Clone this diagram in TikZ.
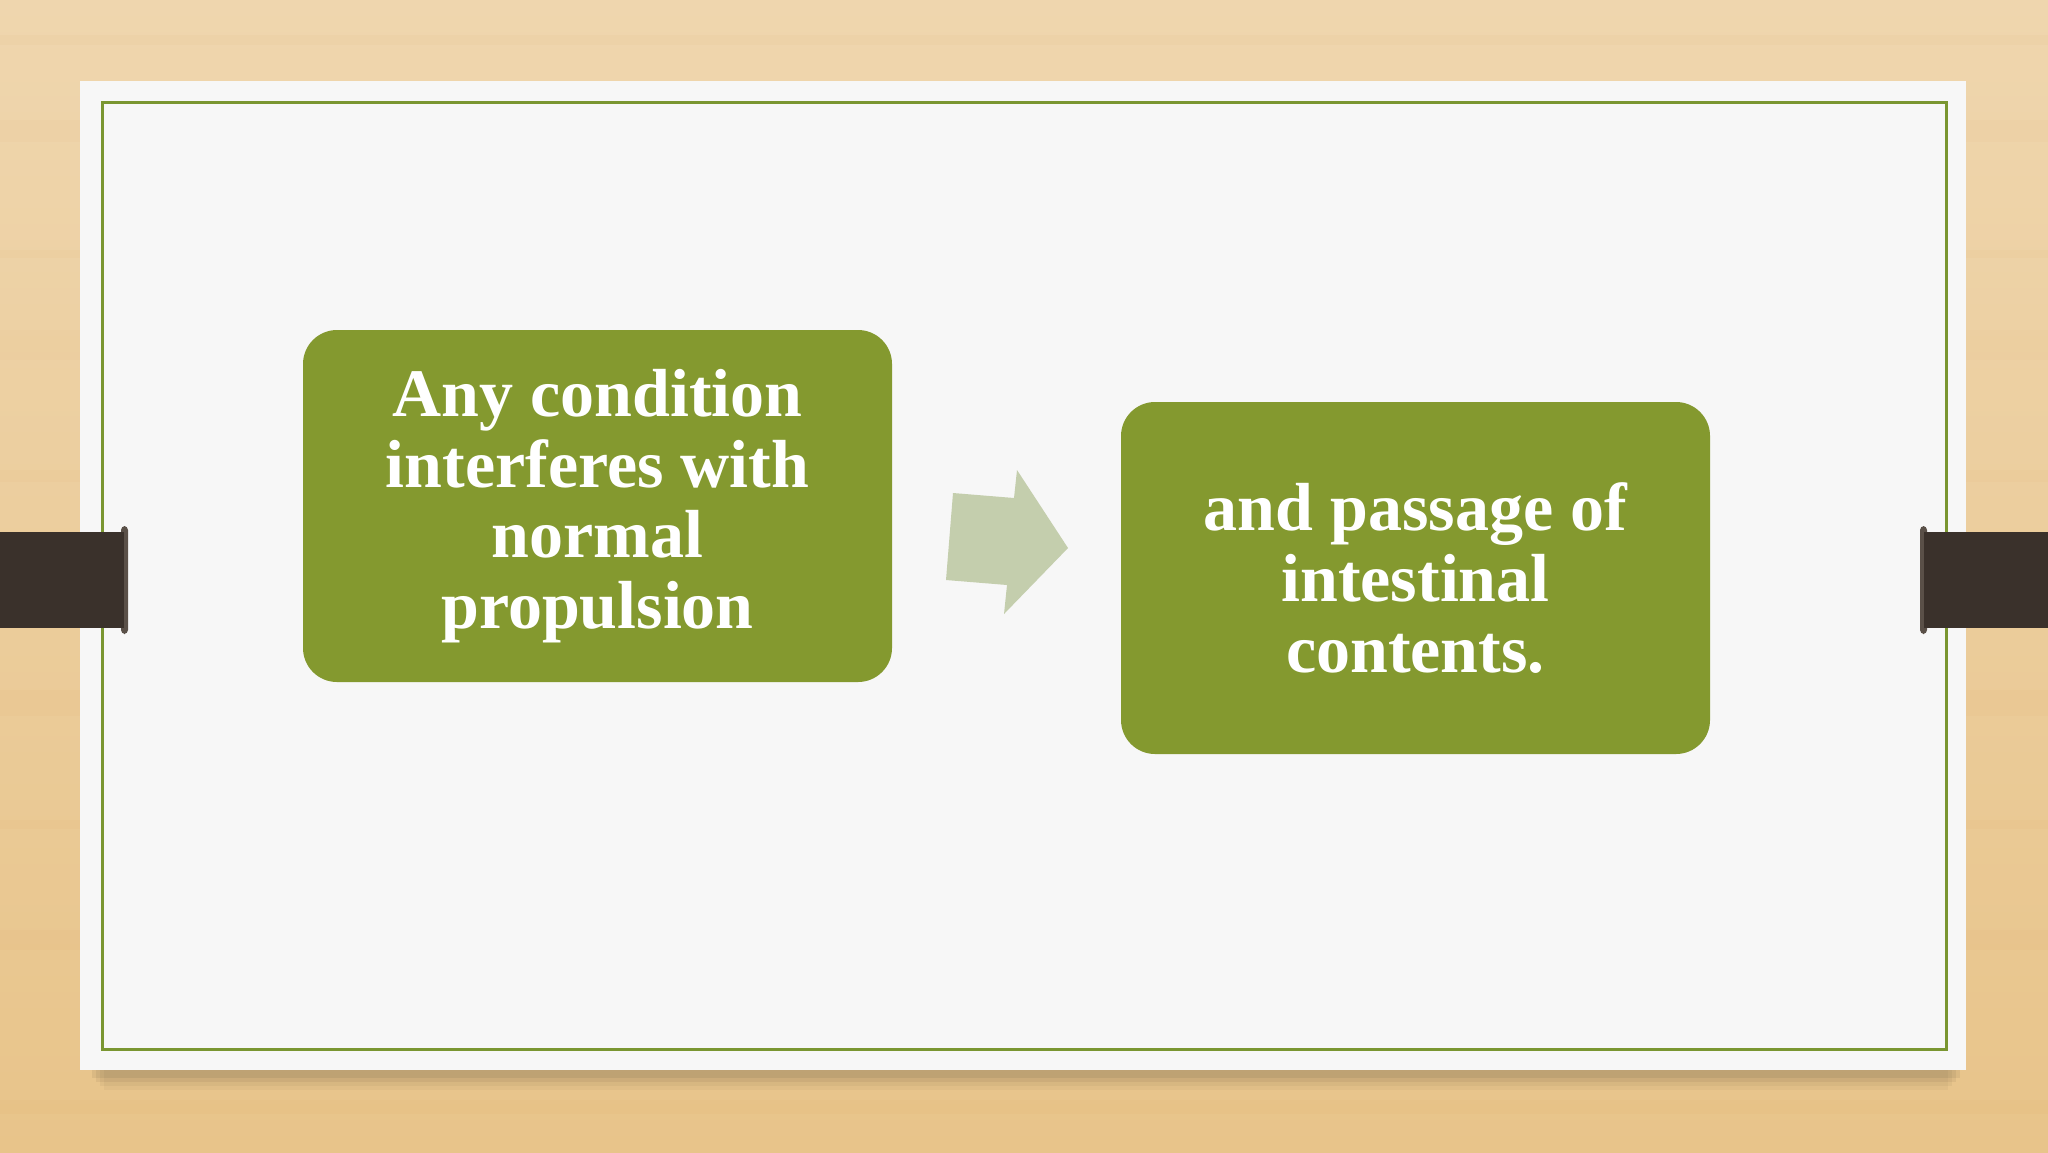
\documentclass[tikz,border=0pt]{standalone}
\usepackage{fontspec}
\setmainfont{Liberation Serif}
\definecolor{woodtop}{HTML}{EFD6AE}
\definecolor{woodbot}{HTML}{E8C48A}
\definecolor{paper}{HTML}{F7F7F7}
\definecolor{frameg}{HTML}{7A9631}
\definecolor{boxg}{HTML}{84992F}
\definecolor{arrowg}{HTML}{C4CEAD}
\definecolor{bar}{HTML}{3A312B}
\definecolor{knob}{HTML}{5A5048}
\tikzset{
  gbox/.style={fill=boxg, draw=none, rounded corners=17pt, minimum width=294.5pt, minimum height=176pt,
    text=white, align=center, font=\bfseries\fontsize{34}{35.3}\selectfont, inner sep=0pt},
  barstyle/.style={fill=bar},
}
\begin{document}
\begin{tikzpicture}[x=0.5pt,y=-0.5pt]
\useasboundingbox (0,0) rectangle (2048,1152);
% wood background
\shade[top color=woodtop, bottom color=woodbot] (0,0) rectangle (2048,1152);
\foreach \yy/\hh/\op in {35/10/0.035,120/22/0.03,250/8/0.035,330/30/0.025,470/12/0.03,690/26/0.03,820/9/0.035,930/20/0.03,1100/14/0.035}{
  \fill[brown!70!orange, opacity=\op] (0,\yy) rectangle (2048,\yy+\hh);
}
% paper shadow
\foreach \d/\op in {0/0.06,4/0.05,8/0.04,12/0.03}{
  \fill[black, opacity=\op] (92+\d,1068) rectangle (1960-\d,1078+\d);
}
% paper
\fill[paper] (80,81) rectangle (1966,1070);
\draw[frameg, line width=1.5pt] (102,102) rectangle (1946,1049);
% side bars
\fill[knob, rounded corners=2pt] (121,526) rectangle (128,634);
\fill[barstyle] (0,532) rectangle (124,628);
\fill[knob, rounded corners=2pt] (1920,526) rectangle (1927,634);
\fill[barstyle] (1924,532) rectangle (2048,628);
% boxes
\node[gbox] (a) at (597.5,506) {Any condition\\interferes with\\normal\\propulsion};
\node[gbox] (b) at (1415.5,578) {and passage of\\intestinal\\contents.};
% arrow
\coordinate (t1) at (953,493);
\coordinate (n1) at (1014,498);
\coordinate (h1) at (1017,470);
\coordinate (tip) at (1068,548);
\coordinate (h2) at (1004,614);
\coordinate (n2) at (1007,585);
\coordinate (t2) at (946,580);
\fill[arrowg] (t1) -- (n1) -- (h1) -- (tip) -- (h2) -- (n2) -- (t2) -- cycle;
\end{tikzpicture}
\end{document}
